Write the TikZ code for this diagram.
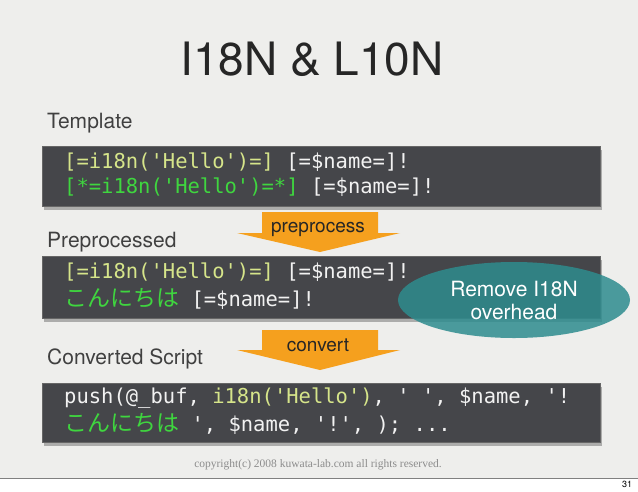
\documentclass[tikz,border=0pt]{standalone}
\usepackage{fontspec}
\setmainfont{Liberation Serif}
\setsansfont{TeX Gyre Heros}
\setmonofont{DejaVu Sans Mono}
\newfontfamily\cjk{Noto Sans CJK JP}
\usetikzlibrary{shapes.geometric,shadows}
\definecolor{boxbg}{HTML}{45464A}
\definecolor{lgreen}{HTML}{D6E58A}
\definecolor{jgreen}{HTML}{3FD63F}
\definecolor{codew}{HTML}{F2F2F2}
\definecolor{arr}{HTML}{F5A01E}
\definecolor{teal}{HTML}{2E8C8E}
\definecolor{slide}{HTML}{EEEEEC}
\tikzset{
 codebox/.style={fill=boxbg,draw=black!60,drop shadow={shadow xshift=2pt,shadow yshift=-4pt,opacity=0.6}},
 codeline/.style={anchor=west,font=\ttfamily\fontsize{20.5}{24}\selectfont,text=codew,inner sep=0},
 lbl/.style={anchor=west,font=\sffamily\fontsize{21}{24}\selectfont,text=black!75,inner sep=0},
 arrlbl/.style={font=\sffamily\fontsize{19}{22}\selectfont,text=black!85,inner sep=0},
 flow/.style={fill=arr}
}
\begin{document}
\begin{tikzpicture}[x=1pt,y=-1pt]
\useasboundingbox (0,0) rectangle (638,491);
\fill[white] (0,0) rectangle (638,491);
\fill[slide] (0,0) rectangle (638,478);
\draw[black!50] (0,478) -- (638,478);
\node[font=\sffamily\fontsize{9}{10}\selectfont] (pg) at (627,484) {31};
\node[font=\sffamily\fontsize{46}{50}\selectfont,text=black!85] (title) at (312,59) {I18N \& L10N};
% Template
\node[lbl] (l1) at (47,123) {Template};
\path[codebox] (42,146) rectangle (600,206);
\node[codeline] (t1) at (64,162) {\textcolor{lgreen}{[=i18n('Hello')=]} [=\$name=]!};
\node[codeline] (t2) at (64,187) {\textcolor{jgreen}{[*=i18n('Hello')=*]} [=\$name=]!};
% preprocess arrow
\fill[flow] (262,212) -- (378,212) -- (378,233) -- (400,233) -- (320,252) -- (237,233) -- (262,233) -- cycle;
\node[arrlbl] (a1) at (318,229) {preprocess};
% Preprocessed
\node[lbl] (l2) at (47,242) {Preprocessed};
\path[codebox] (42,256) rectangle (600,318);
\node[codeline] (p1) at (64,272) {\textcolor{lgreen}{[=i18n('Hello')=]} [=\$name=]!};
\node[codeline] (p2) at (64,299) {\textcolor{jgreen}{\cjk\fontsize{23}{24}\selectfont こんにちは} [=\$name=]!};
\node[ellipse,fill=teal,fill opacity=0.85,minimum width=232,minimum height=76,inner sep=0] (rm) at (514,300) {};
\node[align=center,font=\sffamily\fontsize{21}{23}\selectfont,text=white] (rmt) at (rm) {Remove I18N\\overhead};
% convert arrow
\fill[flow] (262,330) -- (378,330) -- (378,350) -- (400,350) -- (320,370) -- (237,350) -- (262,350) -- cycle;
\node[arrlbl] (a2) at (318,345) {convert};
% Converted
\node[lbl] (l3) at (47,359) {Converted Script};
\path[codebox] (42,383) rectangle (600,442);
\node[codeline] (c1) at (64,398) {push(@\_buf, \textcolor{lgreen}{i18n('Hello')}, ' ', \$name, '!};
\node[codeline] (c2) at (64,424) {\textcolor{jgreen}{\cjk\fontsize{23}{24}\selectfont こんにちは} ', \$name, '!', ); ...};
\node[font=\fontsize{11.5}{12}\selectfont,text=black!45] (cp) at (318,465) {copyright(c) 2008 kuwata-lab.com all rights reserved.};
\end{tikzpicture}
\end{document}
